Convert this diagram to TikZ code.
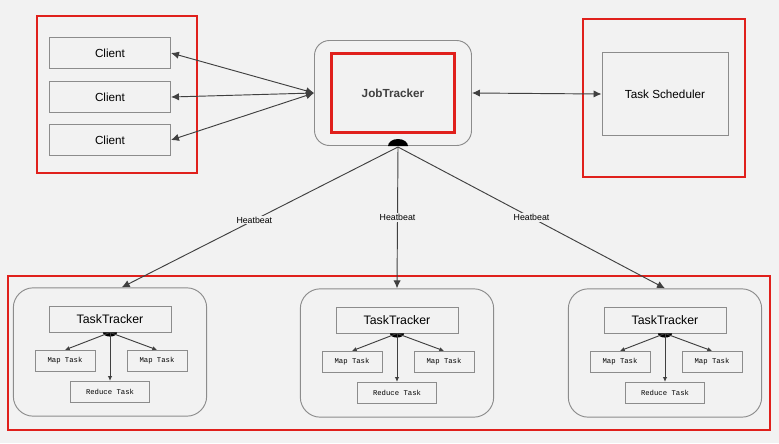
\documentclass[tikz,border=0pt]{standalone}
\usepackage{fontspec}
\setmainfont{Liberation Sans}
\newfontfamily\taskfont{Liberation Mono}
\usetikzlibrary{positioning,arrows.meta}
\definecolor{bg}{HTML}{F2F2F2}
\definecolor{edge}{HTML}{8C8C8C}
\definecolor{hred}{HTML}{E0201C}
\definecolor{wire}{HTML}{404040}
\tikzset{
  box/.style={rectangle,draw=edge,thick,fill=bg,inner sep=0pt},
  client/.style={box,minimum width=3.63cm,minimum height=0.93cm,font=\fontsize{10}{12}\selectfont},
  group/.style={rectangle,rounded corners=0.6cm,draw=edge,thick,minimum width=5.8cm,minimum height=3.85cm},
  tracker/.style={box,minimum width=3.66cm,minimum height=0.78cm,font=\fontsize{10.5}{12}\selectfont},
  task/.style={box,minimum width=1.8cm,minimum height=0.64cm,font=\taskfont\fontsize{6.2}{7}\selectfont},
  reduce/.style={task,minimum width=2.37cm},
  frame/.style={draw=hred,line width=2.2pt},
  link/.style={draw=wire,thick,-{Latex[length=2.4mm,width=2.2mm]}},
  sublink/.style={draw=wire,thick,-{Latex[length=1.4mm,width=1.3mm]}},
  lbl/.style={font=\fontsize{7.5}{9}\selectfont,fill=bg,inner sep=1pt}
}
\begin{document}
\begin{tikzpicture}[x=0.03cm,y=-0.03cm]
\fill[bg] (0,0) rectangle (779,443);
\useasboundingbox (0,0) rectangle (779,443);
% clients
\draw[frame] (37,16) rectangle (197,173);
\node[client] (c1) at (110,53) {Client};
\node[client] (c2) at (110,97) {Client};
\node[client] (c3) at (110,140) {Client};
% job tracker
\node[group,minimum width=4.71cm,minimum height=3.15cm,rounded corners=0.45cm] (jt) at (393,93) {};
\node[rectangle,draw=hred,line width=2.4pt,minimum width=3.69cm,minimum height=2.37cm,font=\fontsize{10}{12}\selectfont\bfseries,text=black!75] (jtin) at (393,93) {JobTracker};
% scheduler
\draw[frame] (583,19) rectangle (745,177);
\node[box,minimum width=3.78cm,minimum height=2.49cm,font=\fontsize{10}{12}\selectfont] (ts) at (665,94) {Task Scheduler};
\draw[link,{Latex[length=2.4mm,width=2.2mm]}-{Latex[length=2.4mm,width=2.2mm]}] (c1.east) -- (jt.west);
\draw[link,{Latex[length=2.4mm,width=2.2mm]}-{Latex[length=2.4mm,width=2.2mm]}] (c2.east) -- (jt.west);
\draw[link,{Latex[length=2.4mm,width=2.2mm]}-{Latex[length=2.4mm,width=2.2mm]}] (c3.east) -- (jt.west);
\draw[link,{Latex[length=2.4mm,width=2.2mm]}-{Latex[length=2.4mm,width=2.2mm]}] (jt.east) -- (ts.west);
% task trackers
\draw[frame] (8,276) rectangle (770,430);
\coordinate (hub) at (398,147);
\fill[black] (388,146) arc (180:360:10 and 7) -- cycle;
\foreach \n/\gx/\gy in {1/110/352,2/397/353,3/665/353}{
  \node[group] (g\n) at (\gx,\gy) {};
  \node[tracker] (tt\n) at (\gx,\gy-33) {TaskTracker};
  \node[task] (ma\n) at (\gx-45,\gy+9) {Map Task};
  \node[task] (mb\n) at (\gx+47,\gy+9) {Map Task};
  \node[reduce] (rt\n) at (\gx,\gy+40) {Reduce Task};
  \fill[black] ([xshift=-6pt]tt\n.south) arc (180:360:6pt and 3.5pt) -- cycle;
  \draw[sublink] (tt\n.south) -- (ma\n.north);
  \draw[sublink] (tt\n.south) -- (mb\n.north);
  \draw[sublink] (tt\n.south) -- (rt\n.north);
}
\draw[link] (hub) -- node[lbl,pos=0.52]{Heatbeat} ([xshift=10]g1.north);
\draw[link] (hub) -- node[lbl,pos=0.5]{Heatbeat} (g2.north);
\draw[link] (hub) -- node[lbl,pos=0.5]{Heatbeat} (g3.north);
\end{tikzpicture}
\end{document}
